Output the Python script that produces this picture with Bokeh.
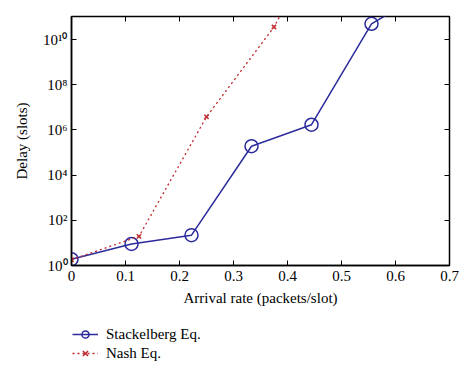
from bokeh.plotting import figure
from bokeh.layouts import column
from bokeh.core.properties import value
from bokeh.models import (Range1d, LinearAxis, LogAxis, FixedTicker, Legend, LegendItem)
from bokeh.embed import file_html
from bokeh.resources import INLINE

stack_x = [0.0, 1/9, 2/9, 1/3, 4/9, 5/9, 2/3]
stack_y = [1.9, 9.0, 22.0, 1.9e5, 1.7e6, 5.0e10, 1.8e12]
nash_x = [0.0, 0.125, 0.25, 0.375, 0.5]
nash_y = [1.8, 19.5, 3.8e6, 3.6e10, 1.3e16]

x_ticks = [0, 0.1, 0.2, 0.3, 0.4, 0.5, 0.6, 0.7]
x_labels = ["0", "0.1", "0.2", "0.3", "0.4", "0.5", "0.6", "0.7"]
y_ticks = [1, 1e2, 1e4, 1e6, 1e8, 1e10]
y_labels = ["10\u2070", "10\u00b2", "10\u2074", "10\u2076", "10\u2078", "10\u00b9\u2070"]
series_names = ["Stackelberg Eq.", "Nash Eq."]

FONT = "Liberation Serif"
BLUE = "#2b2b9c"
RED = "#c0282d"

p = figure(width=474, height=315, output_backend="svg", toolbar_location=None,
           y_axis_type="log", x_range=Range1d(0, 0.7), y_range=Range1d(1, 1.05e11),
           min_border_left=71, min_border_right=25, min_border_top=16, min_border_bottom=50)
p.xgrid.visible = False
p.ygrid.visible = False
p.outline_line_color = "black"
p.outline_line_width = 1.5

xa = p.xaxis[0]
xa.ticker = FixedTicker(ticks=x_ticks)
xa.major_label_overrides = {t: l for t, l in zip(x_ticks, x_labels)}
xa.axis_label = "Arrival rate (packets/slot)"
ya = p.yaxis[0]
ya.ticker = FixedTicker(ticks=y_ticks)
ya.major_label_overrides = {t: l for t, l in zip(y_ticks, y_labels)}
ya.axis_label = "Delay (slots)"

for ax in (xa, ya):
    ax.major_tick_in = 5
    ax.major_tick_out = 0
    ax.minor_tick_in = 0
    ax.minor_tick_out = 0
    ax.axis_line_color = "black"
    ax.axis_line_width = 1.5
    ax.major_label_text_font = FONT
    ax.major_label_text_font_size = "15px"
    ax.major_label_text_color = "black"
    ax.axis_label_text_font = FONT
    ax.axis_label_text_font_size = "15px"
    ax.axis_label_text_font_style = "normal"
    ax.axis_label_text_color = "black"
xa.major_label_standoff = 5
xa.axis_label_standoff = 6
ya.major_label_standoff = 4
ya.axis_label_standoff = 10

top = LinearAxis(ticker=FixedTicker(ticks=x_ticks), major_label_text_font_size="1px",
                 major_label_text_alpha=0, major_label_standoff=0,
                 major_tick_in=5, major_tick_out=0, minor_tick_in=0, minor_tick_out=0,
                 axis_line_color=None)
right = LogAxis(ticker=FixedTicker(ticks=y_ticks), major_label_text_font_size="1px",
                major_label_text_alpha=0, major_label_standoff=0,
                major_tick_in=5, major_tick_out=0, minor_tick_in=0, minor_tick_out=0,
                axis_line_color=None)
p.add_layout(top, "above")
p.add_layout(right, "right")

p.line(stack_x, stack_y, line_color=BLUE, line_width=1.5)
p.scatter(stack_x, stack_y, marker="circle", size=13, fill_color=None,
          line_color=BLUE, line_width=1.5)
p.line(nash_x, nash_y, line_color=RED, line_width=1.3, line_dash="2 3")
p.scatter(nash_x, nash_y, marker="x", size=6, line_color=RED, line_width=1.5)

# legend panel below the chart (series drawn out of its view, used only as legend keys)
lf = figure(width=474, height=64, output_backend="svg", toolbar_location=None,
            x_range=Range1d(100, 101), y_range=Range1d(100, 101),
            x_axis_location=None, y_axis_location=None,
            min_border_left=0, min_border_right=0, min_border_top=0, min_border_bottom=0)
lf.grid.visible = False
lf.outline_line_color = None
l1 = lf.line(stack_x, stack_y, line_color=BLUE, line_width=1.5)
m1 = lf.scatter(stack_x, stack_y, marker="circle", size=13, fill_color=None,
                line_color=BLUE, line_width=1.5)
l2 = lf.line(nash_x, nash_y, line_color=RED, line_width=1.3, line_dash="2 3")
m2 = lf.scatter(nash_x, nash_y, marker="x", size=6, line_color=RED, line_width=1.5)

legend = Legend(items=[LegendItem(label=value(series_names[0]), renderers=[l1, m1]),
                       LegendItem(label=value(series_names[1]), renderers=[l2, m2])],
                location=(1, 17), orientation="vertical",
                border_line_color=None, background_fill_alpha=0,
                label_text_font=FONT, label_text_font_size="15px",
                label_text_color="black",
                glyph_width=26, glyph_height=18, spacing=1, padding=0,
                margin=0, label_standoff=8)
lf.add_layout(legend, "center")

layout = column(p, lf, spacing=0)
open("out.html", "w").write(file_html(layout, INLINE))
